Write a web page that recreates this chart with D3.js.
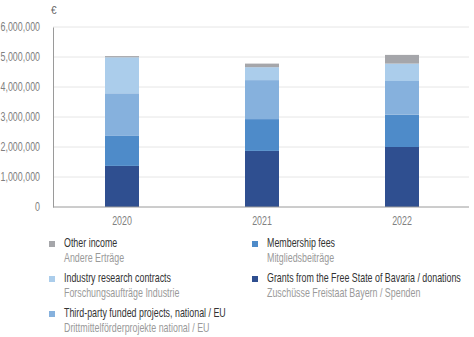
<!DOCTYPE html>
<html>
<head>
<meta charset="utf-8">
<script src="https://cdn.jsdelivr.net/npm/d3@7"></script>
<style>
  body { margin: 0; background: #fff; }
  svg { font-family: "Liberation Sans", Arial, sans-serif; }
</style>
</head>
<body>
<svg id="chart" width="474" height="337"></svg>
<script>
//Data
var years = ["2020", "2021", "2022"];
var grants = [1370000, 1870000, 2000000];
var membership = [1000000, 1060000, 1080000];
var thirdParty = [1420000, 1300000, 1120000];
var industry = [1200000, 430000, 580000];
var other = [40000, 120000, 290000];
var yTicks = [0, 1000000, 2000000, 3000000, 4000000, 5000000, 6000000];

var seriesKeys = ["grants", "membership", "thirdParty", "industry", "other"];
var seriesColors = {
    grants: "#2f4f90",
    membership: "#4e8bc9",
    thirdParty: "#86b1dd",
    industry: "#abcdeb",
    other: "#a5a6aa"
};

//Legend entries (column, row)
var legendItems = [
    { key: "other", en: "Other income", de: "Andere Erträge", col: 0, row: 0 },
    { key: "industry", en: "Industry research contracts", de: "Forschungsaufträge Industrie", col: 0, row: 1 },
    { key: "thirdParty", en: "Third-party funded projects, national / EU", de: "Drittmittelförderprojekte national / EU", col: 0, row: 2 },
    { key: "membership", en: "Membership fees", de: "Mitgliedsbeiträge", col: 1, row: 0 },
    { key: "grants", en: "Grants from the Free State of Bavaria / donations", de: "Zuschüsse Freistaat Bayern / Spenden", col: 1, row: 1 }
];

var table = years.map(function(y, i){
    return { year: y, grants: grants[i], membership: membership[i], thirdParty: thirdParty[i], industry: industry[i], other: other[i] };
});

var dims = { left: 53, right: 469, top: 27, bottom: 207 };
var narrow = 0.74; //condensed look

var svg = d3.select("#chart");

//Scales
var xScale = d3.scaleBand()
               .domain(years)
               .range([52, 472]);

var yScale = d3.scaleLinear()
               .domain([0, 6000000])
               .range([dims.bottom, dims.top]);

var barWidth = 34;

//Gridlines
svg.append("g")
   .selectAll("line")
   .data(yTicks.slice(1))
   .enter()
   .append("line")
   .attr("x1", dims.left)
   .attr("x2", dims.right)
   .attr("y1", function(d){ return yScale(d); })
   .attr("y2", function(d){ return yScale(d); })
   .style("stroke", "#e6e6e6")
   .style("stroke-width", 1);

//Stacked bars
var stack = d3.stack().keys(seriesKeys);
var layers = stack(table);

svg.append("g")
   .selectAll("g")
   .data(layers)
   .enter()
   .append("g")
   .style("fill", function(d){ return seriesColors[d.key]; })
   .selectAll("rect")
   .data(function(d){ return d; })
   .enter()
   .append("rect")
   .attr("x", function(d){ return xScale(d.data.year) + xScale.bandwidth() / 2 - barWidth / 2; })
   .attr("y", function(d){ return yScale(d[1]); })
   .attr("height", function(d){ return yScale(d[0]) - yScale(d[1]); })
   .attr("width", barWidth);

//Y-axis
var yAxis = svg.append("g")
               .attr("transform", "translate(" + dims.left + ",0)")
               .call(d3.axisLeft(yScale).tickValues(yTicks).tickSize(0).tickPadding(13 / narrow).tickFormat(d3.format(",")));
yAxis.select(".domain").style("stroke", "#9a9a9a");
yAxis.selectAll("text")
     .attr("transform", "scale(" + narrow + ",1)")
     .style("font-size", "12px")
     .style("fill", "#808080")
     .style("font-family", "inherit");

//X-axis
var xAxis = svg.append("g")
               .attr("transform", "translate(0," + dims.bottom + ")")
               .call(d3.axisBottom(xScale).tickSize(0).tickPadding(9));
xAxis.select(".domain").attr("d", "M" + dims.left + ",0H" + dims.right).style("stroke", "#9a9a9a");
xAxis.selectAll("text")
     .attr("transform", "scale(" + narrow + ",1)")
     .style("font-size", "12px")
     .style("fill", "#808080")
     .style("font-family", "inherit");

//Currency label
svg.append("text")
   .attr("x", 51)
   .attr("y", 14)
   .style("font-size", "10px")
   .style("fill", "#666")
   .text("€");

//Legend
var legend = svg.append("g")
                .selectAll("g")
                .data(legendItems)
                .enter()
                .append("g")
                .attr("transform", function(d){
                    return "translate(" + (d.col === 0 ? 49 : 252) + "," + (240 + d.row * 35) + ")";
                });

legend.append("rect")
      .attr("width", 6)
      .attr("height", 6)
      .attr("y", 1)
      .style("fill", function(d){ return seriesColors[d.key]; });

var legendText = legend.append("g")
                       .attr("transform", "translate(15,0) scale(" + narrow + ",1)");

legendText.append("text")
          .attr("y", 7)
          .style("font-size", "12px")
          .style("fill", "#333")
          .text(function(d){ return d.en; });

legendText.append("text")
          .attr("y", 22)
          .style("font-size", "12px")
          .style("fill", "#9a9a9a")
          .text(function(d){ return d.de; });
</script>
</body>
</html>
